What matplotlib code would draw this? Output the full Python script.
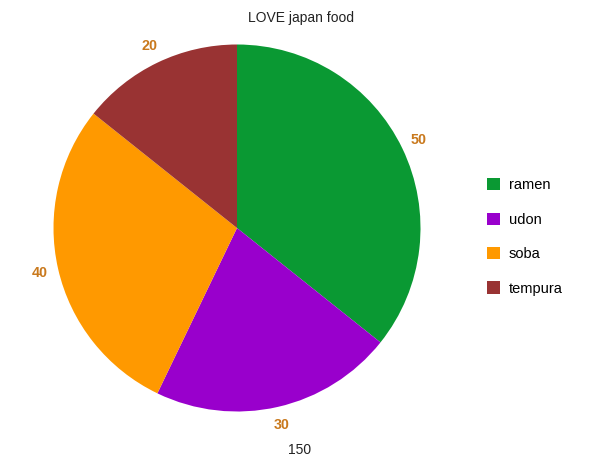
import matplotlib
matplotlib.use("Agg")
import matplotlib.pyplot as plt

categories = ["ramen", "udon", "soba", "tempura"]
values = [50, 30, 40, 20]
colors = ["#0a9933", "#9900cc", "#ff9900", "#993333"]
title = "LOVE japan food"
total_text = "150"

plt.rcParams['font.family'] = ['Liberation Sans', 'DejaVu Sans']

fig = plt.figure(figsize=(6.0, 4.63), dpi=100)
cx, cy, r = 237, 463 - 228, 183.5
ax = fig.add_axes([(cx - r) / 600, (cy - r) / 463, 2 * r / 600, 2 * r / 463])

wedges, texts = ax.pie(values, colors=colors, startangle=90, counterclock=False,
                       labels=[str(v) for v in values], labeldistance=1.1,
                       wedgeprops=dict(linewidth=0),
                       textprops=dict(color="#c9791d", fontweight="bold", fontsize=10.3))
for t in texts:
    t.set_ha("center")
    t.set_va("center")
ax.set_aspect("equal")
ax.set_xlim(-1, 1)
ax.set_ylim(-1, 1)

fig.text(301 / 600, 1 - 18 / 463, title, ha="center", va="center", fontsize=10, color="#222222")
fig.text(300 / 600, 1 - 450 / 463, total_text, ha="center", va="center", fontsize=10, color="#222222")

fig.legend(wedges, categories, loc="upper left", bbox_to_anchor=(487 / 600, 1 - 178 / 463),
           frameon=False, handlelength=0.9, handleheight=0.9, labelspacing=1.4,
           handletextpad=0.6, fontsize=10.5, borderaxespad=0, borderpad=0)

fig.savefig("out.png", dpi=100, facecolor="white")
